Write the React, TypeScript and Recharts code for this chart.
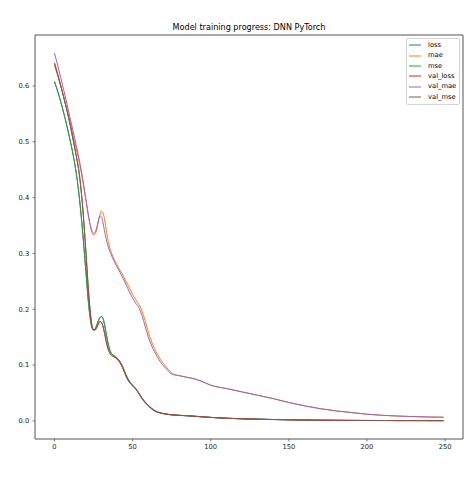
import React from 'react';
import { LineChart, Line, XAxis, YAxis, Legend, ReferenceLine } from 'recharts';

const epochs = [0, 2, 4, 6, 8, 10, 12, 14, 16, 18, 20, 22, 24, 25, 26, 27, 28, 29, 30, 31, 32, 33, 34, 35, 36, 38, 40, 42, 44, 46, 48, 50, 52, 54, 56, 58, 60, 62, 64, 66, 68, 70, 72, 74, 76, 78, 80, 85, 90, 95, 100, 110, 120, 130, 140, 150, 160, 170, 180, 190, 200, 210, 220, 230, 240, 249];

const mse = [0.608, 0.591, 0.572, 0.551, 0.528, 0.503, 0.476, 0.443, 0.398, 0.34, 0.272, 0.205, 0.167, 0.163, 0.165, 0.171, 0.179, 0.185, 0.187, 0.184, 0.173, 0.158, 0.143, 0.131, 0.123, 0.117, 0.113, 0.106, 0.095, 0.081, 0.071, 0.064, 0.058, 0.05, 0.041, 0.034, 0.028, 0.023, 0.019, 0.016, 0.0145, 0.013, 0.012, 0.0112, 0.0107, 0.0103, 0.01, 0.0092, 0.0083, 0.0072, 0.0063, 0.0048, 0.0038, 0.0031, 0.0025, 0.002, 0.0016, 0.0013, 0.0011, 0.0009, 0.0008, 0.0007, 0.0006, 0.0006, 0.0005, 0.0005];

const loss = mse.slice();

const valMse = [0.641, 0.622, 0.601, 0.579, 0.556, 0.531, 0.503, 0.474, 0.44, 0.385, 0.308, 0.225, 0.171, 0.163, 0.163, 0.167, 0.173, 0.178, 0.177, 0.17, 0.158, 0.144, 0.132, 0.124, 0.119, 0.115, 0.111, 0.104, 0.093, 0.079, 0.069, 0.063, 0.057, 0.049, 0.04, 0.033, 0.027, 0.022, 0.018, 0.0155, 0.014, 0.0128, 0.012, 0.0112, 0.0107, 0.0103, 0.01, 0.0092, 0.0083, 0.0072, 0.0063, 0.0048, 0.0038, 0.0031, 0.0025, 0.002, 0.0016, 0.0013, 0.0011, 0.0009, 0.0008, 0.0007, 0.0006, 0.0006, 0.0005, 0.0005];

const valLoss = valMse.slice();

const mae = [0.637, 0.619, 0.6, 0.58, 0.558, 0.535, 0.511, 0.487, 0.461, 0.432, 0.398, 0.363, 0.338, 0.333, 0.335, 0.342, 0.355, 0.368, 0.376, 0.373, 0.362, 0.345, 0.328, 0.315, 0.305, 0.291, 0.28, 0.27, 0.26, 0.249, 0.238, 0.227, 0.217, 0.209, 0.197, 0.18, 0.16, 0.143, 0.13, 0.119, 0.11, 0.102, 0.095, 0.089, 0.084, 0.082, 0.081, 0.078, 0.075, 0.07, 0.064, 0.058, 0.052, 0.046, 0.04, 0.033, 0.027, 0.022, 0.018, 0.015, 0.012, 0.01, 0.0087, 0.0077, 0.007, 0.0066];

const valMae = [0.659, 0.638, 0.615, 0.592, 0.568, 0.543, 0.518, 0.493, 0.466, 0.435, 0.399, 0.364, 0.34, 0.336, 0.338, 0.346, 0.358, 0.367, 0.366, 0.356, 0.341, 0.327, 0.316, 0.307, 0.3, 0.287, 0.276, 0.266, 0.255, 0.243, 0.231, 0.22, 0.211, 0.203, 0.189, 0.17, 0.151, 0.136, 0.124, 0.114, 0.105, 0.098, 0.092, 0.086, 0.083, 0.082, 0.081, 0.078, 0.075, 0.07, 0.064, 0.058, 0.052, 0.046, 0.04, 0.033, 0.027, 0.022, 0.018, 0.015, 0.012, 0.01, 0.0087, 0.0077, 0.007, 0.0066];

const seriesNames = ['loss', 'mae', 'mse', 'val_loss', 'val_mae', 'val_mse'];
const seriesColors = ['#1f77b4', '#ff7f0e', '#2ca02c', '#d62728', '#9467bd', '#8c564b'];
const seriesValues = [loss, mae, mse, valLoss, valMae, valMse];

const xTicks = [0, 50, 100, 150, 200, 250];
const yTicks = [0, 0.1, 0.2, 0.3, 0.4, 0.5, 0.6];
const xDomain = [-12.45, 261.45];
const yDomain = [-0.0324, 0.6914];

const titleText = 'Model training progress: DNN PyTorch';

const data = epochs.map((e, i) => {
  const row: Record<string, number> = { epoch: e };
  seriesNames.forEach((n, k) => {
    row[n] = seriesValues[k][i];
  });
  return row;
});

const FONT = '"DejaVu Sans", sans-serif';
const AXIS = '#555';

const renderLegend = (props: any) => {
  const payload = props.payload || [];
  return (
    <div
      style={{
        background: '#fff',
        border: '1px solid #d4d4d4',
        borderRadius: 2,
        padding: '1px 3px 2px 2px',
        fontFamily: FONT,
        fontSize: 6.75,
        color: '#000',
        boxSizing: 'border-box',
        width: 54,
      }}
    >
      {payload.map((p: any) => (
        <div key={p.value} style={{ display: 'flex', alignItems: 'center', height: 10.35, lineHeight: '10.35px' }}>
          <svg width={12} height={4} style={{ marginRight: 7, flex: 'none' }}>
            <line x1={0} y1={2} x2={12} y2={2} stroke={p.color} strokeWidth={1} />
          </svg>
          <span>{p.value}</span>
        </div>
      ))}
    </div>
  );
};

export default function App() {
  return (
    <div style={{ position: 'absolute', left: 0, top: 0, width: 474, height: 478, background: '#fff' }}>
      <div
        style={{
          position: 'absolute',
          left: 35,
          width: 428,
          top: 23,
          textAlign: 'center',
          fontFamily: FONT,
          fontSize: 8.1,
          lineHeight: '8.1px',
          color: '#000',
          whiteSpace: 'nowrap',
        }}
      >
        {titleText}
      </div>
      <LineChart
        width={474}
        height={478}
        data={data}
        margin={{ top: 35, right: 11, bottom: 19, left: 5 }}
      >
        <XAxis
          dataKey="epoch"
          type="number"
          domain={xDomain}
          ticks={xTicks}
          allowDataOverflow
          height={20}
          tickSize={2.4}
          tickMargin={3.2}
          interval={0}
          stroke={AXIS}
          axisLine={{ stroke: AXIS, strokeWidth: 1 }}
          tickLine={{ stroke: AXIS, strokeWidth: 0.8 }}
          tick={{ fill: '#222', stroke: 'none', fontSize: 6.75, fontFamily: FONT }}
        />
        <YAxis
          type="number"
          domain={yDomain}
          ticks={yTicks}
          allowDataOverflow
          width={30}
          tickSize={2.4}
          tickMargin={3.3}
          interval={0}
          stroke={AXIS}
          axisLine={{ stroke: AXIS, strokeWidth: 1 }}
          tickLine={{ stroke: AXIS, strokeWidth: 0.8 }}
          tick={{ fill: '#222', stroke: 'none', fontSize: 6.75, fontFamily: FONT }}
          tickFormatter={(v: number) => v.toFixed(1)}
        />
        <ReferenceLine y={yDomain[1]} stroke={AXIS} strokeWidth={1} ifOverflow="visible" />
        <ReferenceLine x={xDomain[1]} stroke={AXIS} strokeWidth={1} ifOverflow="visible" />
        {seriesNames.map((n, k) => (
          <Line
            key={n}
            dataKey={n}
            name={n}
            type="monotone"
            stroke={seriesColors[k]}
            strokeWidth={1}
            dot={false}
            activeDot={false}
            isAnimationActive={false}
          />
        ))}
        <Legend
          layout="vertical"
          align="center"
          verticalAlign="middle"
          content={renderLegend}
          wrapperStyle={{ position: 'absolute', left: 406, top: 38, width: 54, height: 66 }}
        />
      </LineChart>
    </div>
  );
}
